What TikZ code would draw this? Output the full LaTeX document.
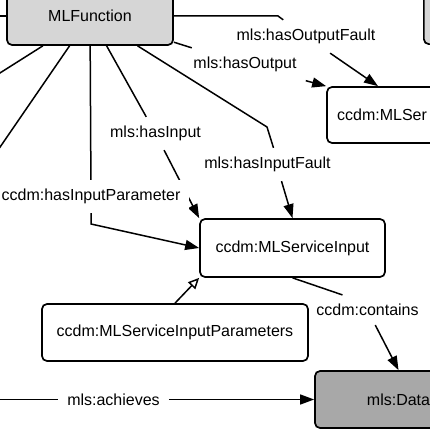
\documentclass[tikz,border=0pt]{standalone}
\usepackage{fontspec}
\setmainfont{Liberation Sans}
\usepackage{tikz}
\usetikzlibrary{arrows.meta, positioning, calc}
\definecolor{boxgray}{RGB}{214,214,214}
\definecolor{datagray}{RGB}{168,168,168}
\definecolor{linedark}{RGB}{0,0,0}
\tikzset{
  classbox/.style={rectangle, draw=linedark, fill=white, align=center,
    font=\fontsize{16}{19}\selectfont, rounded corners=5pt, line width=1.7pt, inner sep=0pt},
  graybox/.style={classbox, fill=boxgray},
  darkbox/.style={classbox, fill=datagray},
  edgelabel/.style={font=\fontsize{16}{19}\selectfont, inner sep=9pt},
  edge/.style={line width=1.5pt, color=linedark},
  arrow/.style={-{Triangle[length=14pt,width=10pt]}, line width=1.5pt, color=linedark},
  subarrow/.style={-{Triangle[open,length=11pt,width=10pt]}, line width=1.5pt, color=linedark}
}

\begin{document}
\begin{tikzpicture}[x=1pt, y=-1pt]
  \path[use as bounding box] (0,0) rectangle (430,430);
  \clip (0,0) rectangle (430,430);

  \node[graybox, minimum width=166pt, minimum height=58pt] (fn) at (90,16) {MLFunction};
  \node[graybox, minimum width=60pt, minimum height=70pt, anchor=south west] (tr) at (423,45) {};
  \node[classbox, minimum width=110pt, minimum height=56pt] (out) at (382,115) {ccdm:MLSer};
  \node[classbox, minimum width=185pt, minimum height=58pt] (in) at (292.5,248) {ccdm:MLServiceInput};
  \node[classbox, minimum width=266pt, minimum height=57pt] (par) at (175,332.5) {ccdm:MLServiceInputParameters};
  \node[darkbox, minimum width=167pt, minimum height=57pt] (data) at (398.5,399.5) {mls:Data};

  \node[edgelabel] (lofault) at (306,36.5) {mls:hasOutputFault};
  \node[edgelabel] (lout) at (245,64.5) {mls:hasOutput};
  \node[edgelabel] (lin) at (155.5,133.5) {mls:hasInput};
  \node[edgelabel] (linf) at (267.5,164.5) {mls:hasInputFault};
  \node[edgelabel] (lcont) at (367.5,310) {ccdm:contains};
  \node[edgelabel] (lach) at (113.5,399.5) {mls:achieves};

  \coordinate (w1) at (-10,16);
  \coordinate (w2) at (-20,85.6);
  \coordinate (w3) at (-20,176.3);
  \coordinate (w4) at (-10,399.5);
  \coordinate (b1) at (278,16);
  \coordinate (b2) at (267,127);
  \coordinate (p1) at (91,224);

  \draw[edge] (w1) -- (fn);
  \draw[edge] (fn) -- (w2);
  \draw[edge] (fn) -- (w3);
  \draw[edge] (fn) -- (b1) -- (lofault);
  \draw[arrow] (lofault) -- ([xshift=-4pt]out.north);
  \draw[edge] (fn) -- (lout);
  \draw[arrow] (lout) -- (out.north west);
  \draw[edge] (fn) -- (lin);
  \draw[arrow] (lin) -- (in.north west);
  \draw[edge] (fn) -- (b2) -- ([xshift=6pt]linf.north);
  \draw[arrow] ([xshift=14pt]linf.south) -- (in.north);
  \draw[edge] (in.south) -- ([xshift=-25pt]lcont.north);
  \draw[arrow] (lcont) -- (data.north);
  \draw[subarrow] (par.north) -- (in.south west);
  \draw[edge] (w4) -- (lach);
  \draw[arrow] (lach) -- (data.west);

  \node[edgelabel, fill=white] (lpar) at (91,196.5) {ccdm:hasInputParameter};
  \draw[edge] (fn) -- (lpar);
  \draw[arrow] (lpar) -- (p1) -- (in.west);

\end{tikzpicture}
\end{document}
